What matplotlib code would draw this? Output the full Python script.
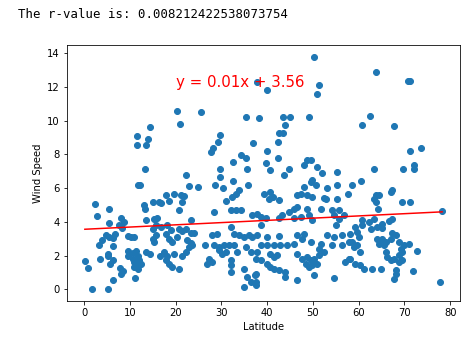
import matplotlib
matplotlib.use("Agg")
import matplotlib.pyplot as plt
import numpy as np

# Latitude / wind speed pairs
points = [
    # upper
    (20.4,10.58),(20.9,9.79),(14.4,9.6),(11.5,9.1),(14.0,8.9),(11.45,8.55),(13.55,8.55),(13.3,7.16),(22.2,6.77),
    (50.3,13.79),(37.7,12.3),(39.9,11.81),(25.5,10.5),(35.3,10.23),(38.2,10.15),(43.4,10.23),(45.0,10.23),(49.2,10.23),
    (43.9,9.73),(42.6,9.24),(43.4,9.24),(29.8,9.16),(29.2,8.74),(28.1,8.35),(27.8,8.15),(36.8,8.68),(42.4,8.74),
    (39.9,8.2),(34.25,7.95),(35.3,7.76),(42.3,7.76),(48.8,7.66),(48.1,7.36),(32.6,7.56),(39.7,7.5),(29.7,7.16),
    (35.7,7.16),(40.6,7.1),(44.8,7.16),(51.0,7.26),
    (63.9,12.88),(70.7,12.33),(71.2,12.33),(50.9,11.57),(51.4,12.1),(62.4,10.3),(60.8,9.73),(67.8,9.67),(71.2,8.2),
    (73.6,8.35),(49.5,7.66),(63.4,7.16),(69.6,7.16),(72.1,7.36),(72.1,7.12),(51.9,6.9),(55.2,6.96),
    (29.8,6.66),(43.6,6.8),
    # middle
    (11.7,6.17),(12.2,6.21),(2.4,5.06),(15.1,5.15),(16.4,5.15),(13.0,4.99),
    (32.5,6.41),(22.9,6.13),(24.9,6.04),(28.7,6.17),(30.4,5.98),(35.8,6.17),(33.8,5.88),(33.1,5.68),(32.35,5.48),(30.9,5.22),
    (17.8,5.58),(19.6,5.68),(21.1,5.62),(21.8,5.54),(16.7,5.09),(18.5,5.22),(21.4,5.18),
    (49.8,6.47),(50.6,6.21),(48.0,6.07),(48.7,5.58),(53.1,5.98),(55.3,6.17),(39.3,5.68),(40.7,5.77),(40.4,5.38),
    (41.2,5.48),(46.6,5.58),(47.3,5.68),(42.6,5.28),(49.8,5.48),(52.8,5.38),(55.3,5.38),(52.5,5.44),(49.5,6.37),
    (58.6,6.17),(60.6,6.41),(67.3,5.88),(67.0,5.77),(64.4,5.62),(63.3,5.38),(63.7,5.18),(69.5,5.15),(71.3,5.15),
    (57.6,5.68),(63.8,5.58),
    # lower-middle
    (5.5,4.75),(2.9,4.33),(13.3,4.79),(5.5,3.96),(8.0,4.2),(8.7,4.0),(13.5,4.1),(15.3,4.15),(16.0,4.2),(7.65,3.8),
    (8.2,3.64),(15.7,3.8),(14.95,3.6),
    (28.35,4.59),(32.0,4.69),(33.1,4.69),(34.2,4.69),(36.7,4.39),(20.7,4.69),(23.25,4.1),(16.7,3.7),(18.1,3.8),(20.7,3.6),
    (22.3,3.56),(32.0,3.7),
    (48.7,4.79),(46.6,4.89),(51.7,4.79),(54.2,4.69),(55.7,4.73),(37.8,4.49),(38.6,4.29),(43.3,4.39),(44.7,4.59),
    (49.1,4.39),(49.8,4.1),(47.3,4.29),(45.8,4.2),(54.6,4.39),(55.7,4.15),(56.8,4.39),(38.6,3.8),(55.0,3.8),
    (39.7,4.2),(42.6,4.2),(45.9,4.79),
    (64.3,4.79),(78.25,4.65),(60.8,4.1),(62.2,4.0),(63.3,4.15),(65.1,3.9),(66.6,4.04),(67.3,4.15),(59.3,3.7),
    (60.8,3.8),(62.6,3.6),(64.0,3.7),(65.1,3.64),
    # low
    (4.7,3.2),(5.5,3.1),(4.0,2.9),(6.8,3.3),(6.2,3.05),(9.5,3.16),(10.2,3.1),(10.9,3.13),(3.3,2.65),(6.2,2.57),
    (15.1,2.97),(15.3,2.81),(9.5,2.26),(10.6,2.18),(11.3,2.3),(9.5,2.0),(11.7,1.98),(13.5,2.21),(14.4,2.1),(16.6,2.0),
    (15.7,3.25),(5.1,2.12),
    (18.9,3.5),(17.8,3.3),(21.4,3.44),(23.25,3.36),(24.0,3.36),(18.5,3.0),(19.2,2.81),(20.3,3.1),(22.5,2.9),
    (23.25,2.77),(23.6,2.6),(22.9,2.5),(17.4,2.21),(18.1,2.0),(19.6,2.1),(21.4,2.0),(22.2,2.21),
    (26.5,2.61),(28.0,3.2),(29.1,3.3),(28.35,2.61),(29.45,2.51),(30.5,2.61),(31.6,2.61),(32.7,2.61),(32.7,3.3),
    (33.8,3.2),(34.9,3.1),(36.0,3.2),(36.7,3.1),(29.45,2.31),(30.2,2.12),(30.9,2.21),(33.4,2.21),(35.3,2.51),(36.4,2.21),
    (37.8,3.2),(40.0,3.1),(42.6,3.16),(46.6,3.2),(48.0,3.3),(47.7,3.0),(53.1,3.2),(54.6,3.1),(56.4,3.2),(38.6,2.61),
    (40.0,2.61),(41.5,2.61),(42.9,2.61),(44.4,2.61),(45.8,2.71),(49.5,2.81),(51.7,2.71),(51.3,2.42),(54.2,2.61),
    (56.4,2.61),(57.9,2.81),(37.8,2.21),(40.7,2.12),(42.2,2.02),(46.6,2.12),(48.7,1.92),(51.3,2.02),(52.4,2.21),
    (58.2,3.3),(59.7,3.4),(60.0,3.1),(67.3,3.36),(68.1,3.2),(67.0,3.0),(64.0,3.0),(65.1,3.0),(65.9,2.81),(64.4,2.71),
    (65.5,2.61),(68.8,2.81),(69.9,2.61),(71.0,2.71),(58.6,2.81),(59.0,2.51),(59.7,2.61),(60.4,2.21),(72.8,2.26),
    (69.2,2.42),(69.5,2.21),(68.8,2.02),(65.9,2.21),(66.2,1.92),
    # very low
    (3.4,1.78),(5.3,1.98),(0.15,1.68),(0.75,1.29),(5.7,1.53),(6.2,1.72),(7.8,1.26),(8.4,1.07),(8.0,0.93),(10.6,1.82),
    (10.9,1.62),(11.45,1.42),(11.7,1.23),(10.9,1.32),(12.0,1.72),(12.4,1.53),(6.3,0.53),(1.7,0.04),(5.2,0.0),(11.1,0.67),
    (17.8,1.72),(18.5,1.53),(19.2,1.32),(20.7,1.19),(27.3,1.82),(28.0,1.62),(26.9,1.53),(32.0,1.72),(32.0,1.42),
    (32.2,1.03),(34.9,1.23),(35.6,0.73),(36.4,0.43),(34.9,0.14),(37.5,0.24),(37.4,0.87),
    (37.5,1.82),(38.6,1.72),(41.5,1.92),(47.7,1.82),(49.5,1.72),(50.2,1.82),(48.4,1.53),(49.1,1.32),(49.8,1.42),
    (50.9,1.53),(57.1,1.62),(57.9,1.82),(40.0,1.53),(40.7,1.32),(41.5,1.23),(42.6,1.13),(44.0,1.03),(44.0,0.73),
    (50.2,0.83),(46.6,0.53),(54.6,0.67),(37.5,0.93),(37.5,0.43),
    (67.0,1.72),(67.7,1.82),(68.8,1.62),(69.5,1.72),(58.2,1.82),(59.3,1.53),(60.4,1.42),(61.1,1.23),(62.95,1.23),
    (64.8,1.23),(68.1,1.13),(68.1,0.93),(67.7,0.64),(71.8,1.07),(77.7,0.43),
]
latitude = [p[0] for p in points]
wind_speed = [p[1] for p in points]

slope = 0.0132
intercept = 3.56
line_eq = "y = 0.01x + 3.56"
r_text = "The r-value is: 0.008212422538073754"
x_label = "Latitude"
y_label = "Wind Speed"

fig = plt.figure(figsize=(474/72, 352/72), dpi=72)
ax = fig.add_axes([67/474, 1-301/352, (460-67)/474, (301-45)/352])

ax.scatter(latitude, wind_speed, s=36, color="#1f77b4")
lat = np.array(latitude)
xs = np.array([lat.min(), lat.max()])
ax.plot(xs, slope*xs + intercept, color="red", linewidth=1.5)
ax.annotate(line_eq, (20, 12), fontsize=15, color="red")
ax.set_xlabel(x_label)
ax.set_ylabel(y_label)
ax.set_xticks(np.arange(0, 81, 10))
ax.set_yticks(np.arange(0, 15, 2))

fig.text(18/474, 1-18.5/352, r_text, family="DejaVu Sans Mono", fontsize=12.4,
         ha="left", va="baseline", color="black")

fig.savefig("out.png", dpi=72)
